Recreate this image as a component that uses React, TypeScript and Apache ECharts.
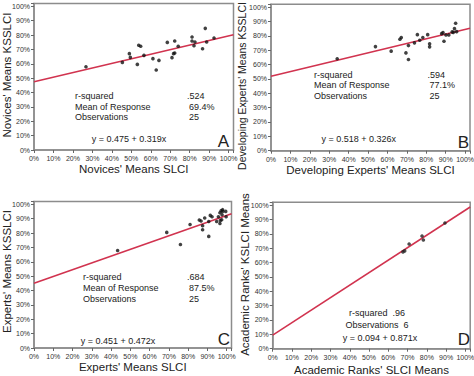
import React, { useEffect, useRef } from "react";
import * as echarts from "echarts";

const FONT = '"Liberation Sans", Arial, Helvetica, sans-serif';

// Panel A – Novices
const aX = [0.267, 0.454, 0.49, 0.495, 0.531, 0.538, 0.548, 0.565, 0.611, 0.628, 0.642, 0.685, 0.709, 0.717, 0.723, 0.723, 0.741, 0.812, 0.812, 0.822, 0.827, 0.866, 0.88, 0.887, 0.925];
const aY = [0.58, 0.61, 0.671, 0.645, 0.596, 0.729, 0.722, 0.659, 0.636, 0.557, 0.624, 0.749, 0.643, 0.671, 0.675, 0.759, 0.722, 0.787, 0.759, 0.726, 0.752, 0.705, 0.847, 0.752, 0.78];
// Panel B – Developing experts
const bX = [0.341, 0.538, 0.619, 0.664, 0.671, 0.695, 0.708, 0.708, 0.739, 0.754, 0.766, 0.782, 0.807, 0.817, 0.817, 0.879, 0.886, 0.891, 0.901, 0.916, 0.933, 0.945, 0.951, 0.956, 0.939];
const bY = [0.64, 0.725, 0.693, 0.776, 0.788, 0.681, 0.732, 0.635, 0.751, 0.808, 0.769, 0.788, 0.808, 0.744, 0.723, 0.815, 0.822, 0.762, 0.806, 0.806, 0.827, 0.85, 0.887, 0.829, 0.824];
// Panel C – Experts
const cX = [0.434, 0.689, 0.76, 0.81, 0.858, 0.867, 0.875, 0.875, 0.886, 0.907, 0.907, 0.915, 0.924, 0.948, 0.957, 0.965, 0.965, 0.971, 0.974, 0.976, 0.979, 0.979, 0.995, 0.997, 0.967];
const cY = [0.679, 0.805, 0.721, 0.86, 0.891, 0.884, 0.851, 0.823, 0.905, 0.881, 0.777, 0.923, 0.914, 0.881, 0.914, 0.867, 0.942, 0.956, 0.893, 0.928, 0.963, 0.951, 0.951, 0.914, 0.888];
// Panel D – Academic ranks
const dX = [0.676, 0.685, 0.708, 0.775, 0.782, 0.894];
const dY = [0.674, 0.681, 0.729, 0.785, 0.757, 0.875];

// regression intercept / slope
const intercepts = [0.475, 0.518, 0.451, 0.094];
const slopes = [0.319, 0.326, 0.472, 0.871];

const xNames = ["Novices' Means SLCI", "Developing Experts' Means SLCI", "Experts' Means SLCI", "Academic Ranks' SLCI Means"];
const yNames = ["Novices' Means KSSLCI", "Developing Experts' Means KSSLCI", "Experts' Means KSSLCI", "Academic Ranks' KSLCI Means"];
const panelLetters = ["A", "B", "C", "D"];
const statLabels = ["r-squared", "Mean of Response", "Observations"];
const statValues = [
  [".524", "69.4%", "25"],
  [".594", "77.1%", "25"],
  [".684", "87.5%", "25"],
];
const dLines = ["r-squared  .96", "Observations  6"];
const equations = ["y = 0.475 + 0.319x", "y = 0.518 + 0.326x", "y = 0.451 + 0.472x", "y = 0.094 + 0.871x"];

const X_MAX = 1.025;
const Y_MAX = 1.02;

export default function App() {
  const ref = useRef<HTMLDivElement>(null);
  useEffect(() => {
    if (!ref.current) return;
    const chart = echarts.init(ref.current, null, { renderer: "svg" });
    const xs = [aX, bX, cX, dX];
    const ys = [aY, bY, cY, dY];

    const grids = [
      { left: 34, top: 3.5, width: 199.5, height: 146.5 },
      { left: 271, top: 4.2, width: 199, height: 146.5 },
      { left: 34, top: 201.5, width: 197.5, height: 146.5 },
      { left: 272.7, top: 202.2, width: 197.5, height: 146.5 },
    ].map((g) => ({
      ...g,
      show: true,
      borderColor: "#8c8c8c",
      borderWidth: 1.5,
      containLabel: false,
      outerBoundsMode: "none",
    }));

    const fmt = (v: number) => {
      const t = v * 10;
      return Math.abs(t - Math.round(t)) < 1e-6 ? Math.round(v * 100) + "%" : "";
    };

    const axisCommon = {
      type: "value" as const,
      min: 0,
      interval: 0.1,
      splitLine: { show: false },
      axisLine: { show: true, lineStyle: { color: "#8c8c8c", width: 1.5 } },
      axisTick: { show: true, length: 3, lineStyle: { color: "#666", width: 1 } },
      axisLabel: { fontSize: 7, color: "#333", fontFamily: FONT, formatter: fmt },
      nameLocation: "middle" as const,
      nameTextStyle: { fontSize: 11.5, color: "#222", fontFamily: FONT },
    };

    const xGaps = [10, 10, 13, 15];

    const xAxis = [0, 1, 2, 3].map((i) => ({
      ...axisCommon,
      gridIndex: i,
      max: X_MAX,
      name: xNames[i],
      nameGap: xGaps[i],
      axisLabel: { ...axisCommon.axisLabel, margin: 5 },
    }));
    const yAxis = [0, 1, 2, 3].map((i) => ({
      ...axisCommon,
      gridIndex: i,
      max: Y_MAX,
      axisLabel: { ...axisCommon.axisLabel, margin: 4 },
    }));

    const series: any[] = [];
    for (let i = 0; i < 4; i++) {
      series.push({
        type: "line",
        xAxisIndex: i,
        yAxisIndex: i,
        data: [
          [0, intercepts[i]],
          [X_MAX, intercepts[i] + slopes[i] * X_MAX],
        ],
        symbol: "none",
        lineStyle: { color: "#d1334f", width: 1.6 },
        silent: true,
        z: 2,
      });
      series.push({
        type: "scatter",
        xAxisIndex: i,
        yAxisIndex: i,
        data: xs[i].map((x, k) => [x, ys[i][k]]),
        symbol: "circle",
        symbolSize: 3.6,
        itemStyle: { color: i === 3 ? "#222" : "#111" },
        z: 3,
      });
    }

    const txt = (x: number, y: number, text: string, size: number, align: string, rotation = 0) => ({
      type: "text",
      x,
      y,
      rotation,
      silent: true,
      style: {
        text,
        fontSize: size,
        fontFamily: FONT,
        fill: "#222",
        align,
        verticalAlign: "middle",
        textAlign: align,
        textVerticalAlign: "middle",
      },
    });

    const graphic: any[] = [];
    // rotated y-axis titles
    const yNamePos = [
      [7, 75, 11.5],
      [242, 86, 10.5],
      [6.5, 271.5, 11.5],
      [244.5, 274.5, 11.5],
    ];
    yNamePos.forEach((p, i) => graphic.push(txt(p[0], p[1], yNames[i], p[2], "center", Math.PI / 2)));

    const statPos = [
      { lx: 75, vx: 187, ys: [96, 106.7, 116.7] },
      { lx: 314, vx: 427.5, ys: [75, 85.3, 96] },
      { lx: 83, vx: 187, ys: [276.5, 288, 298.5] },
    ];
    statPos.forEach((p, i) => {
      statLabels.forEach((lab, k) => {
        graphic.push(txt(p.lx, p.ys[k], lab, 9, "left"));
        graphic.push(txt(p.vx + (k === 0 ? 0 : 2), p.ys[k], statValues[i][k], 9, "left"));
      });
    });
    graphic.push(txt(377, 312.5, dLines[0], 9, "center"));
    graphic.push(txt(377, 325, dLines[1], 9, "center"));
    const eqPos = [
      [129, 139.3],
      [358.7, 138.5],
      [118, 340.5],
      [380, 338.3],
    ];
    eqPos.forEach((p, i) => graphic.push(txt(p[0], p[1], equations[i], 9, "center")));
    const letterPos = [
      [223.5, 141.5],
      [463.5, 142.5],
      [224, 339.5],
      [464, 339.5],
    ];
    letterPos.forEach((p, i) => graphic.push(txt(p[0], p[1], panelLetters[i], 17, "center")));

    chart.setOption({
      animation: false,
      backgroundColor: "#ffffff",
      grid: grids,
      xAxis,
      yAxis,
      series,
      graphic,
    });
    return () => chart.dispose();
  }, []);
  return (
    <div
      ref={ref}
      style={{ position: "fixed", left: 0, top: 0, width: 474, height: 376, background: "#fff" }}
    />
  );
}
